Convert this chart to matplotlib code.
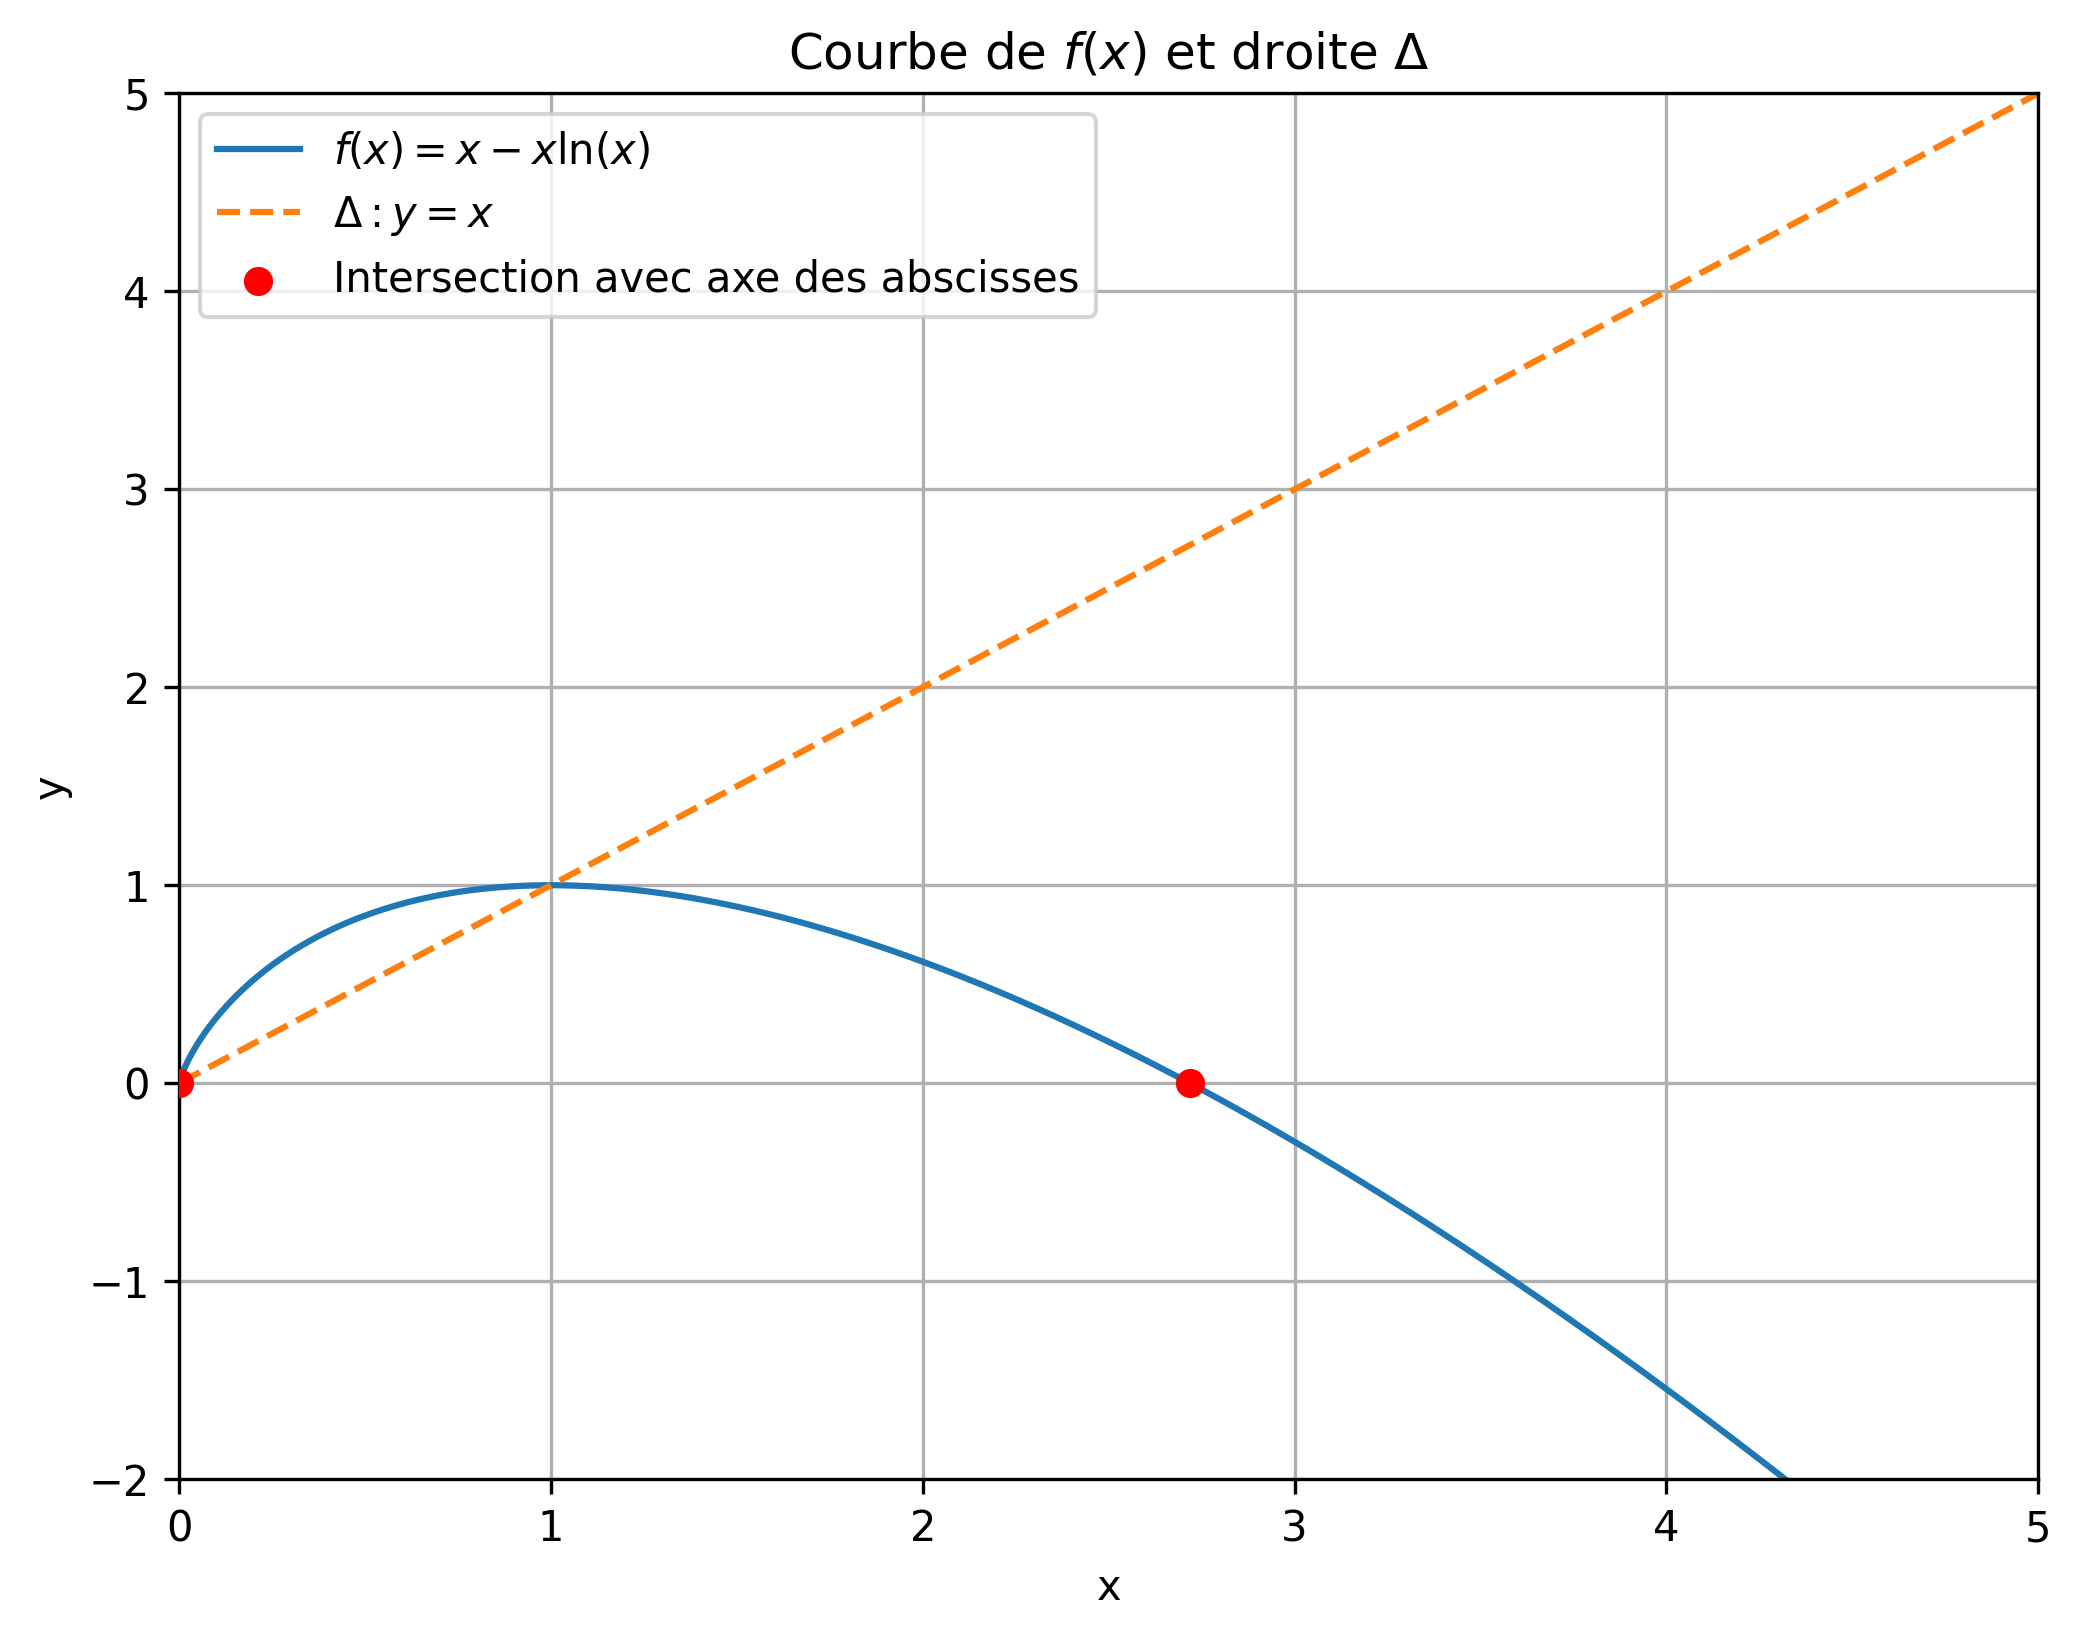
import numpy as np
import matplotlib
matplotlib.use("Agg")
import matplotlib.pyplot as plt

# domaine et fonction
x = np.linspace(0.001, 5, 500)
f = x - x * np.log(x)

# points d'intersection avec l'axe des abscisses
inter_x = [0, np.e]
inter_y = [0, 0]

x_ticks = [0, 1, 2, 3, 4, 5]
y_ticks = [-2, -1, 0, 1, 2, 3, 4, 5]

fig, ax = plt.subplots(figsize=(6.94, 5.46), dpi=300)

ax.plot(x, f, label=r"$f(x) = x - x\ln(x)$")
ax.plot(x, x, "--", label=r"$\Delta: y = x$")
ax.scatter(inter_x, inter_y, color="red", zorder=5,
           label="Intersection avec axe des abscisses")

ax.set_xlim(0, 5)
ax.set_ylim(-2, 5)
ax.set_xticks(x_ticks)
ax.set_yticks(y_ticks)
ax.set_xlabel("x")
ax.set_ylabel("y")
ax.set_title(r"Courbe de $f(x)$ et droite $\Delta$")
ax.grid(True)
ax.legend(loc="upper left")

fig.subplots_adjust(left=0.086, right=0.979, top=0.943, bottom=0.097)
fig.savefig("out.png", dpi=300)
